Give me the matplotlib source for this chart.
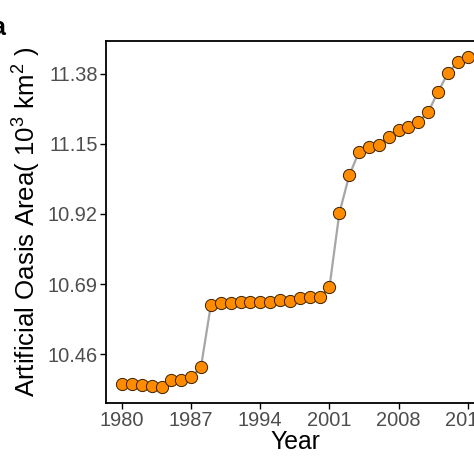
import numpy as np
import matplotlib
matplotlib.use("Agg")
import matplotlib.pyplot as plt

plt.rcParams.update({
    "font.family": ["Liberation Sans", "DejaVu Sans"],
    "mathtext.fontset": "custom",
    "mathtext.rm": "Liberation Sans",
    "mathtext.it": "Liberation Sans:italic",
    "mathtext.bf": "Liberation Sans:bold",
})

# data (10^3 km^2)
years = np.arange(1980, 2016)
area = [10.361, 10.361, 10.360, 10.356, 10.354, 10.375, 10.376, 10.384,
        10.419, 10.622, 10.628, 10.628, 10.630, 10.631, 10.630, 10.631,
        10.637, 10.633, 10.644, 10.646, 10.646, 10.679, 10.922, 11.046,
        11.124, 11.139, 11.146, 11.172, 11.195, 11.204, 11.222, 11.254,
        11.320, 11.382, 11.418, 11.436]

yticks = [10.46, 10.69, 10.92, 11.15, 11.38]
xticks = [1980, 1987, 1994, 2001, 2008, 2015]

W = H = 474
fig = plt.figure(figsize=(W / 100, H / 100), dpi=100)
# axes runs off the right edge, like the cropped original
ax = fig.add_axes([106 / W, 71 / H, 379 / W, 362 / H])

ax.plot(years, area, color="#A6A6A6", lw=1.6, zorder=1)
ax.plot(years, area, ls="none", marker="o", ms=8.8, mfc="#FF8C00",
        mec="#3a2000", mew=0.7, zorder=2)

ax.set_xlim(1978.38, 2016.75)
ax.set_ylim(10.300, 11.487)
ax.set_xticks(xticks)
ax.set_yticks(yticks)
ax.set_yticklabels([f"{v:.2f}" for v in yticks])

for s in ax.spines.values():
    s.set_linewidth(1.3)
    s.set_color("black")

ax.tick_params(axis="both", direction="out", length=4, width=1.0,
               colors="black", labelcolor="#4D4D4D", labelsize=14.4, pad=2)

ax.set_xlabel("Year", fontsize=17.8, labelpad=0)
ax.set_ylabel("Artificial Oasis Area( $10^3$ km$^2$ )", fontsize=18.6, labelpad=3)

fig.text(-9 / W, 1 - 28 / H, "a", fontsize=18, fontweight="bold",
         ha="left", va="center")

fig.savefig("out.png", dpi=100)
